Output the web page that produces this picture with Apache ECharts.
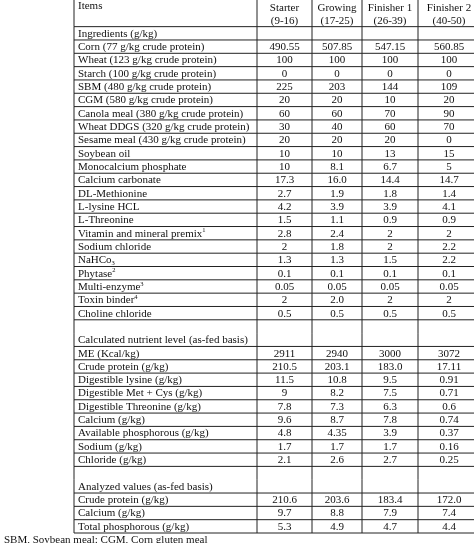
<!DOCTYPE html>
<html>
<head>
<meta charset="utf-8">
<script src="https://cdn.jsdelivr.net/npm/echarts@6/dist/echarts.min.js"></script>
<style>html,body{margin:0;padding:0;background:#fff}#main{width:474px;height:543px}</style>
</head>
<body>
<div id="main"></div>
<script>
// table content
var headers = ['Items', 'Starter\n(9-16)', 'Growing\n(17-25)', 'Finisher 1\n(26-39)', 'Finisher 2\n(40-50)'];
var items = ['Ingredients (g/kg)', 'Corn (77 g/kg crude protein)', 'Wheat (123 g/kg crude protein)', 'Starch (100 g/kg crude protein)',
  'SBM (480 g/kg crude protein)', 'CGM (580 g/kg crude protein)', 'Canola meal (380 g/kg crude protein)',
  'Wheat DDGS (320 g/kg crude protein)', 'Sesame meal (430 g/kg crude protein)', 'Soybean oil', 'Monocalcium phosphate',
  'Calcium carbonate', 'DL-Methionine', 'L-lysine HCL', 'L-Threonine', 'Vitamin and mineral premix{sup|1}', 'Sodium chloride',
  'NaHCo{sub|3}', 'Phytase{sup|2}', 'Multi-enzyme{sup|3}', 'Toxin binder{sup|4}', 'Choline chloride',
  '', 'Calculated nutrient level (as-fed basis)', 'ME (Kcal/kg)', 'Crude protein (g/kg)', 'Digestible lysine (g/kg)',
  'Digestible Met + Cys (g/kg)', 'Digestible Threonine (g/kg)', 'Calcium (g/kg)', 'Available phosphorous (g/kg)',
  'Sodium (g/kg)', 'Chloride (g/kg)', '', 'Analyzed values (as-fed basis)', 'Crude protein (g/kg)', 'Calcium (g/kg)',
  'Total phosphorous (g/kg)'];
var starter = ['', '490.55', '100', '0', '225', '20', '60', '30', '20', '10', '10', '17.3', '2.7', '4.2', '1.5', '2.8', '2', '1.3', '0.1', '0.05', '2', '0.5',
  '', '', '2911', '210.5', '11.5', '9', '7.8', '9.6', '4.8', '1.7', '2.1', '', '', '210.6', '9.7', '5.3'];
var growing = ['', '507.85', '100', '0', '203', '20', '60', '40', '20', '10', '8.1', '16.0', '1.9', '3.9', '1.1', '2.4', '1.8', '1.3', '0.1', '0.05', '2.0', '0.5',
  '', '', '2940', '203.1', '10.8', '8.2', '7.3', '8.7', '4.35', '1.7', '2.6', '', '', '203.6', '8.8', '4.9'];
var finisher1 = ['', '547.15', '100', '0', '144', '10', '70', '60', '20', '13', '6.7', '14.4', '1.8', '3.9', '0.9', '2', '2', '1.5', '0.1', '0.05', '2', '0.5',
  '', '', '3000', '183.0', '9.5', '7.5', '6.3', '7.8', '3.9', '1.7', '2.7', '', '', '183.4', '7.9', '4.7'];
var finisher2 = ['', '560.85', '100', '0', '109', '20', '90', '70', '0', '15', '5', '14.7', '1.4', '4.1', '0.9', '2', '2.2', '2.2', '0.1', '0.05', '2', '0.5',
  '', '', '3072', '17.11', '0.91', '0.71', '0.6', '0.74', '0.37', '0.16', '0.25', '', '', '172.0', '7.4', '4.4'];
var footnote = 'SBM, Soybean meal; CGM, Corn gluten meal';

var cols = [starter, growing, finisher1, finisher2];
var edges = [74, 257, 312, 362, 418, 480];
var font = '"Liberation Serif", "Times New Roman", serif';
var fs = '11px ';
var rich = {
  sup: { fontSize: 6.5, verticalAlign: 'top', padding: [0, 0, 6, 0], fontFamily: font, fill: '#111' },
  sub: { fontSize: 6.5, padding: [6, 0, 0, 0], fontFamily: font, fill: '#111' }
};

var myChart = echarts.init(document.getElementById('main'));

// row entries: -1 = header (2 units), i = items[i] occupying unit i+2
var rowData = [[-1]];
for (var i = 0; i < items.length; i++) rowData.push([i]);

function renderRow(params, api) {
  var r = api.value(0);
  var top = r < 0 ? 0 : r + 2, bottom = r < 0 ? 2 : r + 3;
  var y0 = api.coord([0, top])[1], y1 = api.coord([0, bottom])[1];
  var xs = edges.map(function (e) { return api.coord([e, 0])[0]; });
  var ch = [];
  var lineStyle = { stroke: '#222', lineWidth: 1 };
  var afterBlank = r > 0 && items[r - 1] === '';
  if (r >= 0 && !afterBlank) ch.push({ type: 'line', shape: { x1: xs[0], y1: y0, x2: xs[5], y2: y0 }, style: lineStyle });
  if (r === items.length - 1) ch.push({ type: 'line', shape: { x1: xs[0], y1: y1, x2: xs[5], y2: y1 }, style: lineStyle });
  for (var k = 0; k < 5; k++) ch.push({ type: 'line', shape: { x1: xs[k], y1: y0, x2: xs[k], y2: y1 }, style: lineStyle });
  var midY = (y0 + y1) / 2 + 0.5;
  if (r < 0) {
    ch.push({ type: 'text', style: { text: headers[0], x: xs[0] + 4, y: y0 + 1, verticalAlign: 'top', font: fs + font, fill: '#111' } });
    for (var c = 1; c < 5; c++) {
      ch.push({ type: 'text', style: { text: headers[c], x: (xs[c] + xs[c + 1]) / 2, y: y0 + 1, align: 'center', verticalAlign: 'top', lineHeight: 13.5, font: fs + font, fill: '#111' } });
    }
  } else {
    ch.push({ type: 'text', style: { text: items[r], rich: rich, x: xs[0] + 4, y: midY, verticalAlign: 'middle', font: fs + font, fill: '#111' } });
    for (var c2 = 0; c2 < 4; c2++) {
      ch.push({ type: 'text', style: { text: cols[c2][r], x: (xs[c2 + 1] + xs[c2 + 2]) / 2, y: midY, align: 'center', verticalAlign: 'middle', font: fs + font, fill: '#111' } });
    }
  }
  return { type: 'group', children: ch };
}

var option = {
  animation: false,
  backgroundColor: '#fff',
  title: {
    text: footnote, left: -1, bottom: -8,
    textStyle: { fontFamily: font, fontSize: 11, fontWeight: 'normal', color: '#111' }
  },
  grid: { left: 0, right: 0, top: 0, bottom: 10 },
  xAxis: { type: 'value', min: 0, max: 474, show: false },
  yAxis: { type: 'value', min: 0, max: 40, inverse: true, show: false },
  series: [{
    type: 'custom',
    renderItem: renderRow,
    clip: false,
    data: rowData
  }]
};

myChart.setOption(option);
</script>
</body>
</html>
